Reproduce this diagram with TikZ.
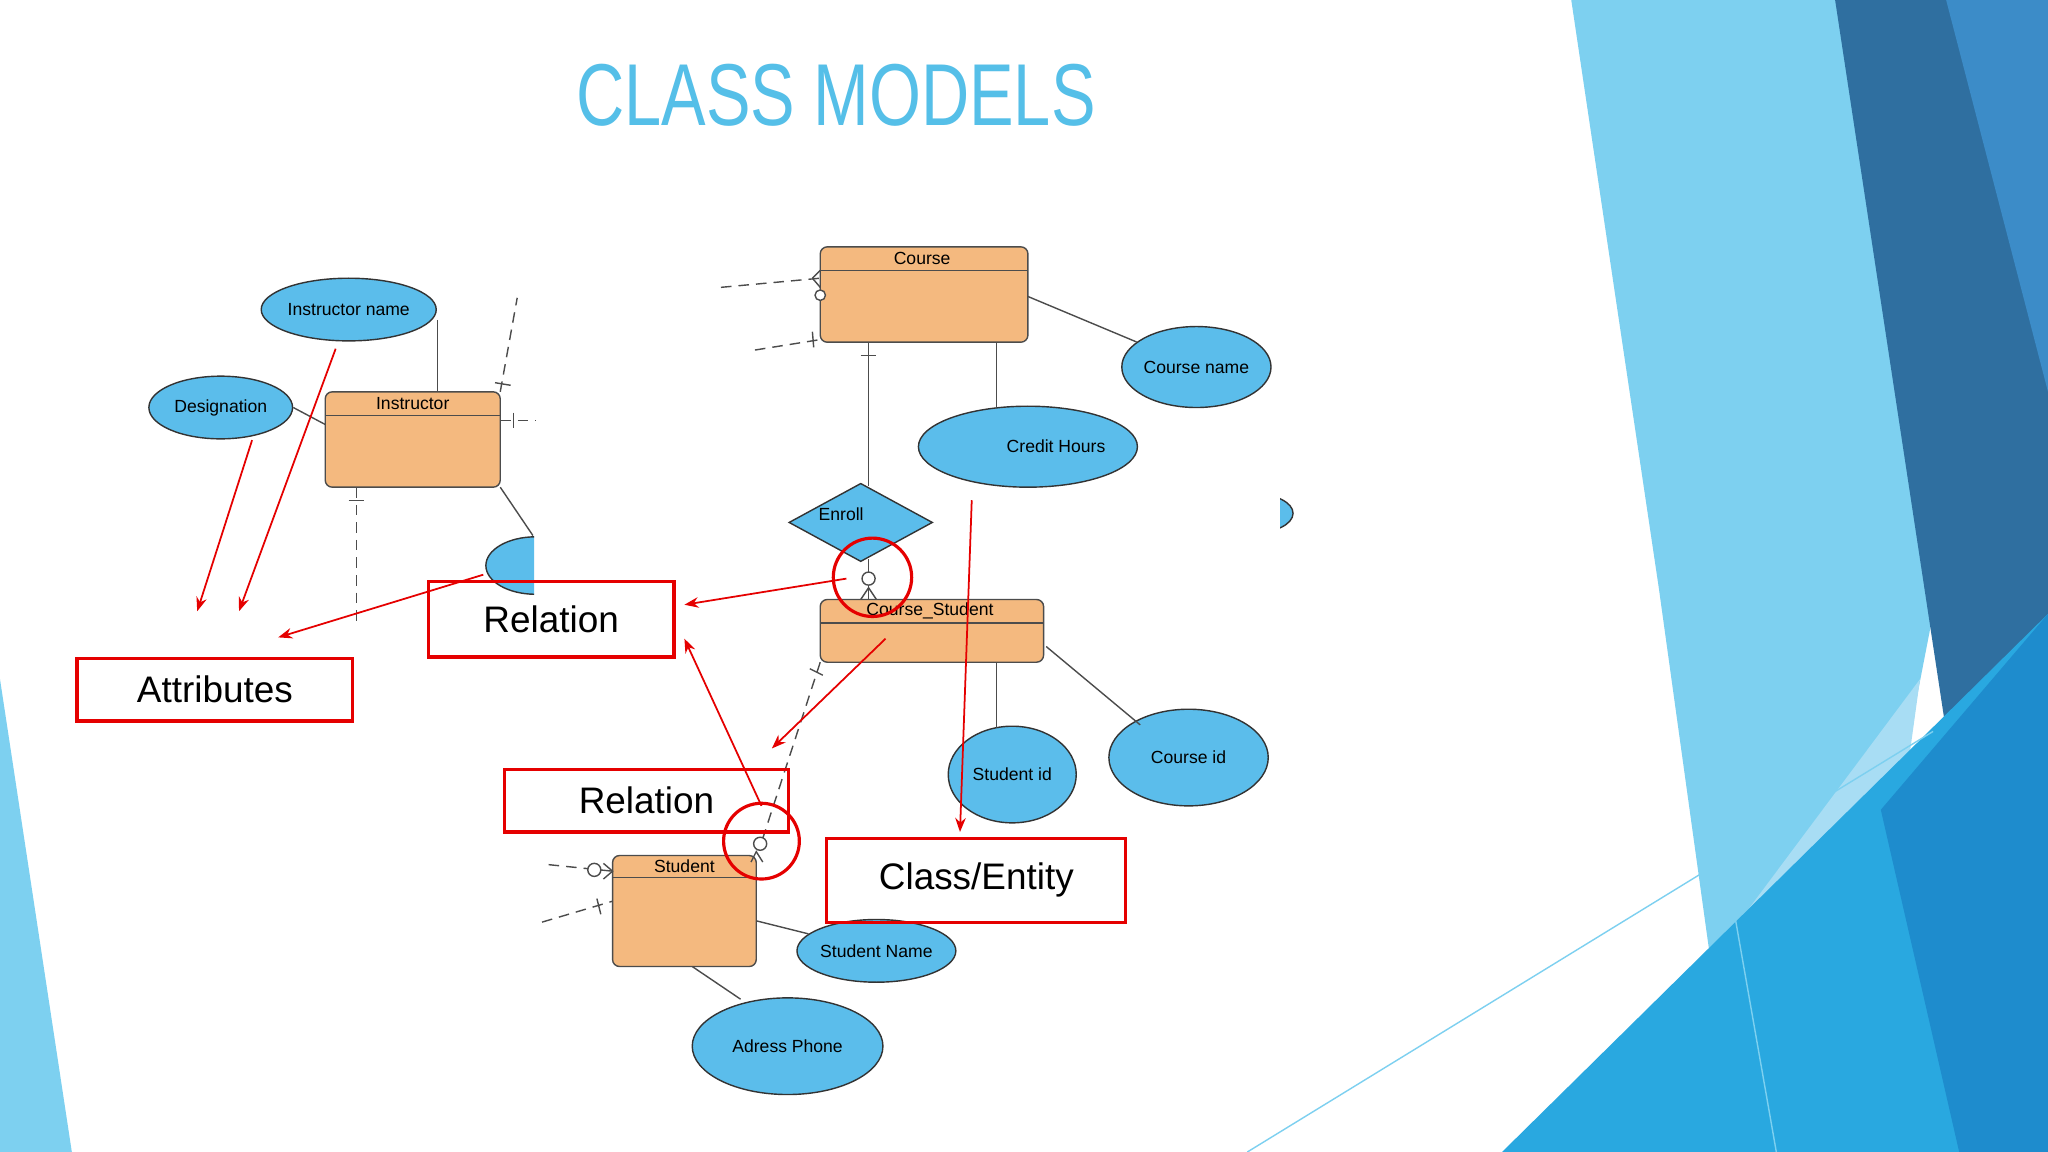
\documentclass[tikz,border=0pt]{standalone}
\usepackage{fontspec}
\setmainfont{Liberation Sans}
\usetikzlibrary{shapes.geometric,arrows.meta}
\definecolor{ent}{HTML}{F4B97F}
\definecolor{att}{HTML}{5BBDEB}
\definecolor{ttl}{HTML}{55BFE8}
\def\u{0.013061cm}
\begin{document}
\begin{tikzpicture}[x=0.013061cm,y=-0.013061cm,
 ent/.style={draw=black!70,fill=ent,rounded corners=2pt},
 att/.style={ellipse,draw=black!80,fill=att,font=\fontsize{5}{6}\selectfont,inner sep=0},
 ln/.style={black!70,line width=0.4pt},
 dl/.style={black!70,dashed,line width=0.4pt,dash pattern=on 3pt off 2pt},
 rbox/.style={draw=red!90!black,line width=0.9pt,font=\fontsize{10.5}{12}\selectfont,inner sep=0},
 rarr/.style={red!90!black,line width=0.5pt,-{Stealth[length=4pt]}},
 hd/.style={font=\fontsize{5}{6}\selectfont}]
\useasboundingbox (0,0) rectangle (1568,882);
% background
\fill[white] (0,0) rectangle (1568,882);
\fill[color={rgb,255:red,125;green,208;blue,240}] (1203,0)--(1410,0)--(1480,470)--(1400,882)--(1330,882)--(1270,450)--cycle;
\fill[color={rgb,255:red,47;green,111;blue,160}] (1405,0)--(1568,0)--(1568,490)--(1490,560)--cycle;
\fill[color={rgb,255:red,60;green,140;blue,200}] (1490,0)--(1568,0)--(1568,300)--cycle;
\fill[color={rgb,255:red,168;green,221;blue,244}] (1200,882)--(1470,520)--(1420,882)--cycle;
\fill[color={rgb,255:red,41;green,168;blue,224}] (1150,882)--(1568,470)--(1568,882)--cycle;
\fill[color={rgb,255:red,30;green,140;blue,205}] (1440,620)--(1568,470)--(1568,882)--(1500,882)--cycle;
\draw[color={rgb,255:red,125;green,208;blue,240}] (1205,0)--(1360,882);
\draw[color={rgb,255:red,125;green,208;blue,240}] (955,882)--(1480,560);
\fill[color={rgb,255:red,125;green,208;blue,240}] (0,520)--(55,882)--(0,882)--cycle;
% title
\node[ttl,font=\fontsize{25}{28}\selectfont] (title) at (640,73) {\scalebox{0.76}[1]{CLASS MODELS}};
% entities
\draw[ent] (628,189) rectangle (787,262); \node (course) at (707,225) {};
\draw[ln] (628,207)--(787,207);
\node[hd] (courseT) at (706,198) {Course};
\draw[ent] (249,300) rectangle (383,373); \node (instr) at (316,336) {};
\draw[ln] (249,318)--(383,318);
\node[hd] (instrT) at (316,309) {Instructor};
\draw[ent] (628,459) rectangle (799,507); \node (cs) at (713,483) {};
\draw[ln] (628,477)--(799,477);
\node[hd] (csT) at (712,468) {Course\_Student};
\draw[ent] (469,655) rectangle (579,740); \node (stu) at (524,697) {};
\draw[ln] (469,672)--(579,672);
\node[hd] (stuT) at (524,663) {Student};
% attributes
\node[att,minimum width=134*\u,minimum height=48*\u] (iname) at (267,237) {Instructor name};
\node[att,minimum width=110*\u,minimum height=48*\u] (desig) at (169,312) {Designation};
\node[att,minimum width=110*\u,minimum height=62*\u] (cname) at (916,281) {Course name};
\node[att,minimum width=146*\u,minimum height=62*\u] (credit) at (787,342) {\hspace{16pt}Credit Hours};
\node[att,minimum width=98*\u,minimum height=74*\u] (sid) at (775,593) {Student id};
\node[att,minimum width=122*\u,minimum height=74*\u] (cid) at (910,580) {Course id};
\node[att,minimum width=110*\u,minimum height=48*\u] (sname) at (671,728) {Student Name};
\node[att,minimum width=146*\u,minimum height=74*\u] (addr) at (603,801) {Adress Phone};
\begin{scope}
\clip (300,380) rectangle (409,470);
\node[att,minimum width=76*\u,minimum height=44*\u] (part1) at (410,433) {};
\end{scope}
\begin{scope}
\clip (980,370) rectangle (1000,420);
\node[att,minimum width=60*\u,minimum height=30*\u] (part2) at (960,393) {};
\end{scope}
\node[diamond,draw=black!80,fill=att,minimum width=110*\u,minimum height=60*\u,inner sep=0,aspect=1.8] (enroll) at (659,400) {};
\node[hd] (enrollT) at (644,394) {Enroll};
% connectors
\draw[ln] (335,245)--(335,300);
\draw[ln] (desig.east)--(249,325);
\draw[ln] (383,373)--(408,410);
\draw[dl] (273,373)--(273,478); \draw[ln] (267,383)--(279,383);
\draw[dl] (383,300)--(396,228); \draw[ln] (379,293)--(391,295);
\draw[dl] (383,322)--(410,322); \draw[ln] (393,316)--(393,328);
\draw[dl] (552,220)--(628,213); \draw[ln] (622,213)--(628,220); \draw[ln] (622,213)--(628,207);
\draw[ln,fill=white] (628,226) circle (4);
\draw[dl] (578,268)--(628,260); \draw[ln] (622,254)--(623,266);
\draw[ln] (787,227)--(cname);
\draw[ln] (763,262)--(763,312);
\draw[ln] (665,262)--(665,372); \draw[ln] (659,272)--(671,272);
\draw[ln] (665,428)--(665,459); \draw[ln] (659,459)--(665,450)--(671,459);
\draw[ln,fill=white] (665,443) circle (5);
\draw[ln] (763,507)--(763,557);
\draw[ln] (801,495)--(873,555);
\draw[dl] (628,507)--(582,648); \draw[ln] (620,512)--(630,517);
\draw[ln,fill=white] (582,646) circle (5);
\draw[ln] (575,660)--(579,652)--(584,660);
\draw[dl] (420,662)--(469,667); \draw[ln] (462,661)--(469,667)--(462,673);
\draw[ln,fill=white] (455,666) circle (5);
\draw[dl] (415,706)--(469,690); \draw[ln] (457,688)--(460,700);
\draw[ln] (579,705)--(sname);
\draw[ln] (530,740)--(567,765);
% annotations
\draw[rbox] (59,504) rectangle (270,552); \node[font=\fontsize{10.5}{12}\selectfont] (attrB) at (164.5,528) {Attributes};
\draw[rbox] (328,445) rectangle (516,503); \node[font=\fontsize{10.5}{12}\selectfont] (rel1) at (422,474) {Relation};
\draw[rbox] (386,589) rectangle (604,637); \node[font=\fontsize{10.5}{12}\selectfont] (rel2) at (495,613) {Relation};
\draw[rbox] (633,642) rectangle (862,706); \node[font=\fontsize{10.5}{12}\selectfont] (clsB) at (747.5,674) {Class/Entity};
\draw[red!90!black,line width=0.9pt] (668,442) circle (30);
\draw[red!90!black,line width=0.9pt] (583,644) circle (29);
\draw[rarr] (257,267)--(183,468);
\draw[rarr] (193,337)--(151,468);
\draw[rarr] (370,440)--(213,488);
\draw[rarr] (648,443)--(524,463);
\draw[rarr] (678,489)--(591,573);
\draw[rarr] (583,617)--(524,489);
\draw[rarr] (744,383)--(735,637);
\end{tikzpicture}
\end{document}
